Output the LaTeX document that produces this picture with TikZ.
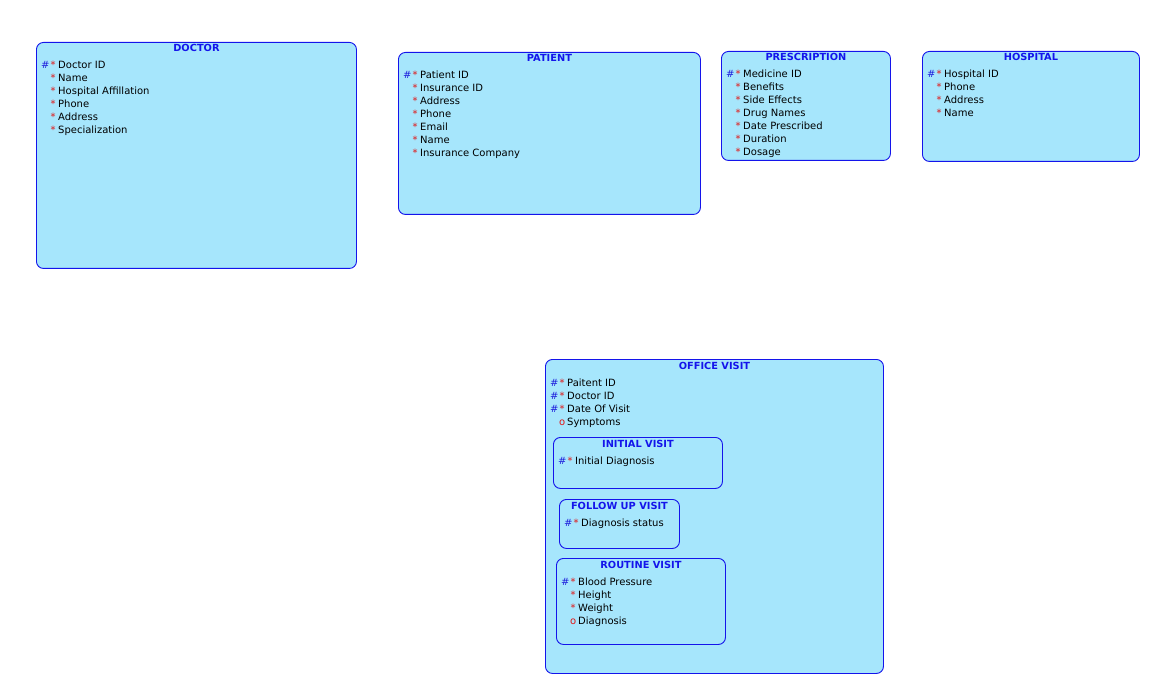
\documentclass[tikz,border=0pt]{standalone}
\usepackage{fontspec}
\setmainfont{DejaVu Sans}
\usetikzlibrary{positioning}

\definecolor{entityfill}{RGB}{166,230,252}
\definecolor{entityline}{RGB}{20,20,235}
\definecolor{keyblue}{RGB}{30,30,220}
\definecolor{starred}{RGB}{225,20,20}

\newcommand{\keyattr}{\makebox[9.5pt][l]{\textcolor{keyblue}{\#}}\makebox[7.5pt][l]{\textcolor{starred}{*}}}
\newcommand{\reqattr}{\hspace*{9.5pt}\makebox[7.5pt][l]{\textcolor{starred}{*}}}
\newcommand{\optattr}{\hspace*{9pt}\makebox[8pt][l]{\textcolor{starred}{o}}}

\begin{document}
\begin{tikzpicture}[
        x=1pt, y=-1pt,
        entity/.style={draw=entityline, fill=entityfill, line width=0.9pt, rounded corners=7pt, anchor=north west, inner sep=0pt},
        title/.style={text=entityline, font=\bfseries\fontsize{9.8}{11}\selectfont, anchor=base, inner sep=0pt},
        attr/.style={font=\fontsize{10}{11}\selectfont, anchor=base west, inner sep=0pt}
    ]
    \useasboundingbox (0,0) rectangle (1150,684);

    % entity boxes
    \node[entity, minimum width=320pt, minimum height=226pt] (doctor) at (36,42) {};
    \node[entity, minimum width=302pt, minimum height=162pt] (patient) at (398,52) {};
    \node[entity, minimum width=169pt, minimum height=109pt] (prescription) at (721,51) {};
    \node[entity, minimum width=217pt, minimum height=110pt] (hospital) at (922,51) {};
    \node[entity, minimum width=338pt, minimum height=314pt] (office) at (545,359) {};
    \node[entity, minimum width=169pt, minimum height=51pt] (initial) at (553,437) {};
    \node[entity, minimum width=120pt, minimum height=49pt] (followup) at (559,499) {};
    \node[entity, minimum width=169pt, minimum height=86pt] (routine) at (556,558) {};

    % titles
    \node[title] (doctor-t) at ([yshift=-10pt]doctor.north) {DOCTOR};
    \node[title] (patient-t) at ([yshift=-10pt]patient.north) {PATIENT};
    \node[title] (prescription-t) at ([yshift=-10pt]prescription.north) {PRESCRIPTION};
    \node[title] (hospital-t) at ([yshift=-10pt]hospital.north) {HOSPITAL};
    \node[title] (office-t) at ([yshift=-10pt]office.north) {OFFICE VISIT};
    \node[title] (initial-t) at ([yshift=-10pt]initial.north) {INITIAL VISIT};
    \node[title] (followup-t) at ([yshift=-10pt]followup.north) {FOLLOW UP VISIT};
    \node[title] (routine-t) at ([yshift=-10pt]routine.north) {ROUTINE VISIT};

    % attributes
    \foreach [count=\i] \mk/\lbl in {\keyattr/Doctor ID, \reqattr/Name, \reqattr/Hospital Affillation, \reqattr/Phone, \reqattr/Address, \reqattr/Specialization}
        \node[attr] (doctor-\i) at ([xshift=5pt, yshift={-(14+13*\i)*1pt}]doctor.north west) {\mk\lbl};
    \foreach [count=\i] \mk/\lbl in {\keyattr/Patient ID, \reqattr/Insurance ID, \reqattr/Address, \reqattr/Phone, \reqattr/Email, \reqattr/Name, \reqattr/Insurance Company}
        \node[attr] (patient-\i) at ([xshift=5pt, yshift={-(14+13*\i)*1pt}]patient.north west) {\mk\lbl};
    \foreach [count=\i] \mk/\lbl in {\keyattr/Medicine ID, \reqattr/Benefits, \reqattr/Side Effects, \reqattr/Drug Names, \reqattr/Date Prescribed, \reqattr/Duration, \reqattr/Dosage}
        \node[attr] (prescription-\i) at ([xshift=5pt, yshift={-(14+13*\i)*1pt}]prescription.north west) {\mk\lbl};
    \foreach [count=\i] \mk/\lbl in {\keyattr/Hospital ID, \reqattr/Phone, \reqattr/Address, \reqattr/Name}
        \node[attr] (hospital-\i) at ([xshift=5pt, yshift={-(14+13*\i)*1pt}]hospital.north west) {\mk\lbl};
    \foreach [count=\i] \mk/\lbl in {\keyattr/Paitent ID, \keyattr/Doctor ID, \keyattr/Date Of Visit, \optattr/Symptoms}
        \node[attr] (office-\i) at ([xshift=5pt, yshift={-(14+13*\i)*1pt}]office.north west) {\mk\lbl};
    \node[attr] (initial-1) at ([xshift=5pt, yshift=-27pt]initial.north west) {\keyattr Initial Diagnosis};
    \node[attr] (followup-1) at ([xshift=5pt, yshift=-27pt]followup.north west) {\keyattr Diagnosis status};
    \foreach [count=\i] \mk/\lbl in {\keyattr/Blood Pressure, \reqattr/Height, \reqattr/Weight, \optattr/Diagnosis}
        \node[attr] (routine-\i) at ([xshift=5pt, yshift={-(14+13*\i)*1pt}]routine.north west) {\mk\lbl};

\end{tikzpicture}
\end{document}
